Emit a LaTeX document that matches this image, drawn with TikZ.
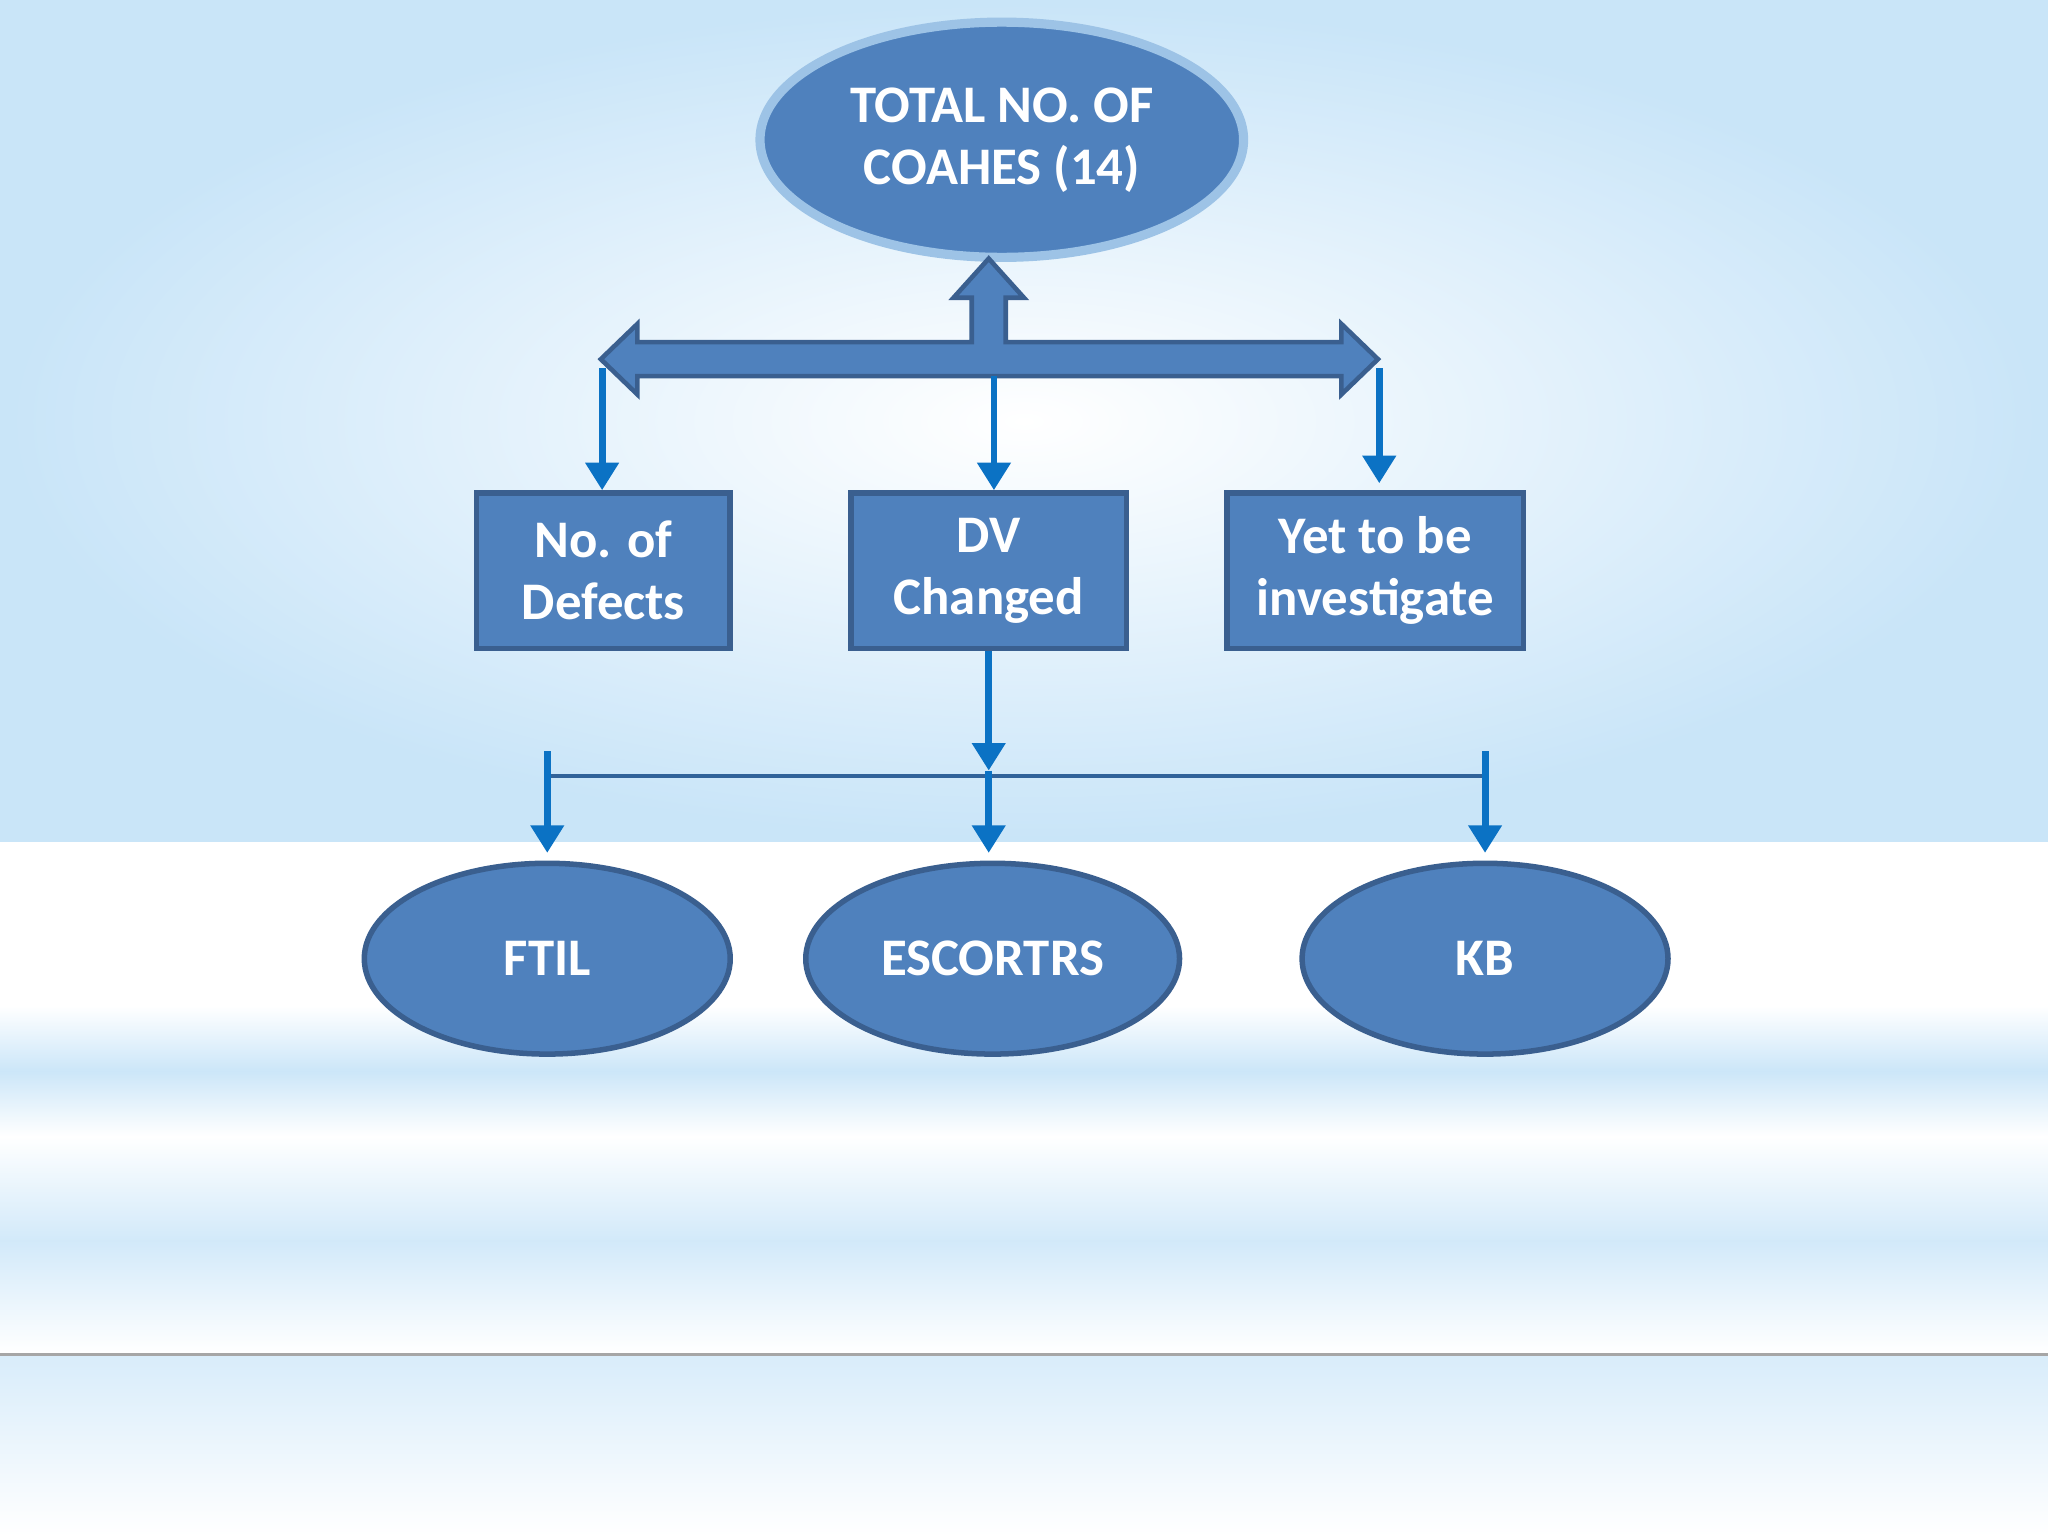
\documentclass[tikz,border=0pt]{standalone}
\usepackage{fontspec}
\setmainfont{Carlito}
\usetikzlibrary{arrows.meta,shapes.geometric}
\definecolor{nodeblue}{HTML}{4F81BD}
\definecolor{edgeblue}{HTML}{3A5F8F}
\definecolor{arrblue}{HTML}{0B72C4}
\definecolor{bgblue}{HTML}{BFE0F7}
\tikzset{
  ov/.style={ellipse,fill=nodeblue,draw=edgeblue,line width=1.2pt,text=white,font=\bfseries\fontsize{11.5}{13.5}\selectfont,align=center,inner sep=0pt},
  bx/.style={rectangle,fill=nodeblue,draw=edgeblue,line width=1.2pt,text=white,font=\bfseries\fontsize{11.5}{13.5}\selectfont,align=center,inner sep=0pt},
  thinarr/.style={draw=arrblue,line width=1.5pt,-{Triangle[width=7pt,length=6pt]}}
}
\begin{document}
\begin{tikzpicture}[x=0.01cm,y=-0.01cm]
\useasboundingbox (0,0) rectangle (1568,1176);
% background
\shade[inner color=white,outer color=bgblue!85] (0,0) rectangle (1568,645);
\fill[white] (0,645) rectangle (1568,770);
\shade[top color=white,bottom color=bgblue!80] (0,770) rectangle (1568,820);
\shade[top color=bgblue!80,bottom color=white] (0,820) rectangle (1568,870);
\shade[top color=white,bottom color=bgblue!70] (0,870) rectangle (1568,950);
\shade[top color=bgblue!70,bottom color=white] (0,950) rectangle (1568,1036);
\shade[top color=bgblue!60,bottom color=white] (0,1038) rectangle (1568,1176);
\draw[gray!70,line width=0.6pt] (0,1037) -- (1568,1037);
% top
\node[ov,draw=bgblue!70!nodeblue,line width=2pt,minimum width=3.70cm,minimum height=1.80cm] (top) at (767,107) {TOTAL NO. OF\\COAHES (14)};
% block arrow
\fill[nodeblue,draw=edgeblue,line width=1pt] (460,275) -- (488,248) -- (488,262) -- (744,262) -- (744,228) -- (730,228) -- (757,198) -- (784,228) -- (770,228) -- (770,262) -- (1027,262) -- (1027,248) -- (1055,275) -- (1027,302) -- (1027,288) -- (488,288) -- (488,302) -- cycle;
% boxes
\node[bx,minimum width=1.94cm,minimum height=1.19cm] (b1) at (462,437) {No. of\\Defects};
\node[bx,minimum width=2.11cm,minimum height=1.19cm] (b2) at (757,437) {DV\\Changed};
\node[bx,minimum width=2.27cm,minimum height=1.19cm] (b3) at (1053,437) {Yet to be\\investigate};
\coordinate (s1) at (461,282);
\coordinate (s2) at (761,288);
\coordinate (s3) at (1056,282);
\draw[thinarr] (s1) -- (b1.north -| s1);
\draw[thinarr] (s2) -- (b2.north -| s2);
\draw[thinarr] (s3) -- (1056,370);
% lower
\coordinate (j) at (757,590);
\draw[thinarr] (b2.south) -- (j);
\coordinate (hl) at (419,594);
\coordinate (hr) at (1137,594);
\draw[edgeblue!80!arrblue,line width=1pt] (hl) -- (hr);
\node[ov,minimum width=2.80cm,minimum height=1.46cm] (e1) at (419,734) {FTIL};
\node[ov,minimum width=2.86cm,minimum height=1.46cm] (e2) at (760,734) {ESCORTRS};
\node[ov,minimum width=2.80cm,minimum height=1.46cm] (e3) at (1137,734) {KB};
\coordinate (t1) at (419,575);
\coordinate (t3) at (1137,575);
\draw[thinarr] (t1) -- (419,653);
\draw[thinarr] (j) -- (757,653);
\draw[thinarr] (t3) -- (1137,653);
\end{tikzpicture}
\end{document}
